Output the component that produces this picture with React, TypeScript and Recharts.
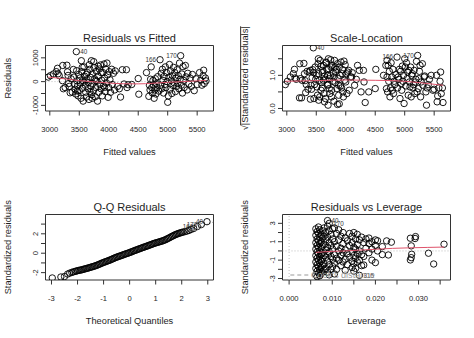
import React from 'react'
import { ScatterChart, Scatter, XAxis, YAxis, ReferenceArea, ReferenceLine } from 'recharts'

const W = 237
const H = 169
const INK = '#1e1e1e'
const RED = '#DF536B'
const GREY = '#bebebe'
const FONT = '"Liberation Sans", Arial, Helvetica, sans-serif'

// ---- Residuals vs Fitted: [fitted, residual]
const residVsFitted: [number, number][] = [
  [2975, 190], [3010, 250], [3060, 320], [3110, 420], [3130, 560], [3140, 330], [3160, 250], [3220, 680], [3215, 40], [3230, -300],
  [3260, -250], [3290, 690], [3300, 410], [3310, 260], [3320, -80], [3330, -200], [3345, -470], [3360, 120], [3380, -440], [3400, 510],
  [3410, 190], [3420, -120], [3430, -320], [3440, -520], [3450, 1260], [3455, 460], [3460, 30], [3470, -190], [3480, -600], [3490, 300],
  [3500, -380], [3510, 150], [3520, -60], [3530, -700], [3535, 880], [3540, 420], [3550, -280], [3560, 40], [3565, -820], [3580, 620],
  [3590, 230], [3600, -150], [3610, -450], [3620, -650], [3630, 80], [3640, 380], [3650, -300], [3655, -40], [3665, -750], [3670, 710],
  [3680, 520], [3690, 180], [3700, -200], [3705, 880], [3710, -550], [3720, 320], [3730, -80], [3740, -380], [3745, 840], [3750, 600],
  [3760, 120], [3770, -640], [3780, -250], [3790, 430], [3800, 20], [3810, -820], [3820, 230], [3830, -450], [3840, 530], [3850, -130],
  [3860, 700], [3870, -300], [3880, 60], [3890, -600], [3900, 380], [3910, -180], [3920, 740], [3930, 150], [3940, -420], [3950, 520],
  [3960, -50], [3970, 780], [3980, 280], [3990, -660], [4000, -250], [4010, 420], [4020, 80], [4030, -450], [4050, 520], [4060, -120],
  [4080, 350], [4100, -350], [4110, 450], [4150, -200], [4180, -300], [4200, -650], [4230, 500], [4260, -100], [4300, 500], [4310, -250],
  [4330, -130], [4390, -120], [4500, 130], [4510, -530],
  [3580, -20], [3620, 300], [3680, -420], [3720, -700], [3780, 40], [3820, 650], [3870, 380], [3930, -240], [3550, 600], [3470, -400],
  [4640, 380], [4680, -620], [4690, -150], [4700, -350], [4710, 100], [4720, 620], [4730, -250], [4740, -480], [4750, 50], [4760, -150],
  [4770, -700], [4780, -350], [4790, 120], [4800, -520], [4810, -80], [4820, -250], [4830, 210], [4850, -400], [4870, 920], [4880, -150],
  [4890, 350], [4900, -300], [4910, 520], [4920, 50], [4930, -480], [4940, 220], [4950, -120], [4960, 620], [4970, -250], [4980, 380],
  [4990, 0], [5000, -870], [5010, -600], [5020, 180], [5030, 720], [5040, -320], [5050, 450], [5060, 60], [5070, -500], [5080, 250],
  [5090, -160], [5100, 600], [5110, -50], [5120, 380], [5130, -420], [5140, 150], [5150, -200], [5160, 500], [5170, -80], [5180, 250],
  [5190, -300], [5200, 780], [5210, 100], [5220, 1090], [5230, -150], [5240, 320], [5250, -480], [5260, 630], [5270, 50], [5280, -250],
  [5300, 680], [5310, 200], [5330, -350], [5340, 350], [5360, -100], [5380, 150], [5400, -200], [5420, 300], [5450, -380], [5480, 120],
  [5500, -120], [5540, 380], [5560, 60], [5580, -150], [5600, 250], [5610, 480], [5620, -80], [5640, 150], [5650, 30],
]
const residSmooth: [number, number][] = [
  [2975, 190], [3250, 120], [3500, 40], [3750, -10], [4000, -60], [4250, -90], [4500, -95], [4750, -70], [5000, -30], [5250, 0], [5500, 30], [5650, 50],
]
const residIds: [number, number, string, 'l' | 'r'][] = [[3450, 1260, '40', 'r'], [4870, 920, '166', 'l'], [5220, 1090, '170', 'l']]

// ---- Scale-Location: [fitted, sqrt|std resid|]
const scaleLoc: [number, number][] = [
  [2975, 0.72], [3010, 0.82], [3060, 0.95], [3110, 1.05], [3130, 1.18], [3140, 0.92], [3160, 0.88], [3215, 0.32], [3220, 1.35], [3230, 0.9],
  [3250, 0.32], [3260, 0.85], [3290, 1.36], [3300, 1.05], [3310, 0.84], [3320, 0.48], [3330, 0.72], [3345, 1.12], [3360, 0.58], [3380, 1.1],
  [3400, 1.15], [3400, 0.28], [3410, 0.7], [3420, 0.58], [3430, 0.93], [3440, 1.17], [3450, 1.83], [3455, 1.08], [3460, 0.3], [3470, 0.72],
  [3480, 1.25], [3490, 0.88], [3500, 1.0], [3510, 0.65], [3520, 0.4], [3530, 1.35], [3535, 1.5], [3540, 1.05], [3540, 0.25], [3550, 0.85],
  [3560, 0.35], [3565, 1.45], [3580, 1.27], [3590, 0.78], [3600, 0.62], [3610, 1.08], [3620, 1.3], [3630, 0.45], [3640, 0.97], [3640, 0.2],
  [3650, 0.88], [3655, 0.3], [3665, 1.4], [3670, 1.38], [3680, 1.18], [3690, 0.7], [3700, 0.73], [3700, 0.1], [3705, 1.5], [3710, 1.2],
  [3720, 0.9], [3730, 0.45], [3740, 0.99], [3745, 1.47], [3750, 1.25], [3760, 0.55], [3770, 1.3], [3780, 0.82], [3790, 1.07], [3800, 0.22],
  [3810, 1.45], [3820, 0.78], [3830, 1.1], [3840, 1.18], [3850, 0.6], [3860, 1.35], [3860, 0.12], [3870, 0.9], [3880, 0.4], [3890, 1.25],
  [3890, 0.14], [3900, 1.0], [3910, 0.68], [3920, 1.4], [3930, 0.62], [3940, 1.05], [3950, 1.17], [3960, 0.35], [3970, 1.43], [3980, 0.85],
  [3990, 1.32], [4000, 0.8], [4010, 1.05], [4020, 0.45], [4030, 1.1], [4050, 1.15], [4060, 0.55], [4080, 0.95], [4100, 0.95], [4110, 1.08],
  [4150, 0.7], [4180, 0.88], [4200, 1.3], [4230, 1.15], [4260, 0.5], [4300, 1.15], [4310, 0.8], [4330, 0.18], [4390, 0.5], [4500, 0.6],
  [4510, 1.18],
  [3580, 0.55], [3620, 0.85], [3690, 1.0], [3760, 0.35], [3820, 1.25], [3880, 0.7], [3950, 0.5], [3600, 1.15], [3720, 0.6], [3800, 0.95],
  [4640, 1.0], [4680, 1.3], [4690, 0.6], [4700, 0.95], [4700, 1.45], [4710, 0.5], [4720, 1.3], [4730, 0.82], [4740, 1.12], [4750, 0.35],
  [4760, 0.62], [4770, 1.38], [4780, 0.95], [4790, 0.55], [4800, 1.18], [4810, 0.45], [4820, 0.82], [4830, 0.72], [4850, 1.02], [4870, 1.55],
  [4880, 0.62], [4890, 0.95], [4900, 0.88], [4910, 1.18], [4920, 0.3], [4930, 1.12], [4940, 0.75], [4950, 0.55], [4960, 1.28], [4970, 0.82],
  [4980, 1.0], [4990, 0.15], [5000, 1.5], [5010, 1.25], [5020, 0.68], [5030, 1.38], [5040, 0.9], [5050, 1.1], [5060, 0.4], [5070, 1.15],
  [5080, 0.8], [5090, 0.65], [5100, 1.25], [5110, 0.35], [5120, 1.0], [5130, 1.05], [5140, 0.62], [5150, 0.72], [5160, 1.15], [5170, 0.45],
  [5180, 0.8], [5190, 0.88], [5200, 1.42], [5210, 0.5], [5220, 1.6], [5230, 0.6], [5240, 0.9], [5250, 1.12], [5260, 1.3], [5270, 0.35],
  [5280, 0.8], [5300, 1.35], [5310, 0.7], [5330, 0.95], [5340, 0.98], [5360, 0.5], [5370, 0.1], [5380, 0.62], [5400, 0.72], [5420, 0.88],
  [5450, 1.0], [5480, 0.55], [5500, 0.58], [5540, 1.0], [5550, 0.2], [5560, 0.38], [5580, 0.62], [5600, 0.82], [5610, 1.1], [5620, 0.45],
  [5640, 0.62], [5650, 0.18],
]
const scaleSmooth: [number, number][] = [
  [2975, 0.82], [3500, 0.84], [4000, 0.86], [4500, 0.85], [4800, 0.84], [5000, 0.82], [5250, 0.78], [5500, 0.73], [5650, 0.7],
]
const scaleIds: [number, number, string, 'l' | 'r'][] = [[3450, 1.83, '40', 'r'], [4870, 1.55, '166', 'l'], [5220, 1.6, '170', 'l']]

// ---- Q-Q Residuals: [theoretical quantile, std residual]
const qq: [number, number][] = [
  [-2.97, -2.55], [-2.64, -2.45], [-2.5, -2.4], [-2.38, -2.15], [-2.3, -2.05], [-2.22, -1.98], [-2.16, -1.92], [-2.1, -1.88], [-2.05, -1.84],
  [-2.0, -1.8], [-1.95, -1.77], [-1.9, -1.74], [-1.85, -1.72], [-1.8, -1.68], [-1.75, -1.64], [-1.7, -1.6], [-1.65, -1.57], [-1.6, -1.53],
  [-1.55, -1.49], [-1.5, -1.45], [-1.45, -1.41], [-1.4, -1.37], [-1.35, -1.33], [-1.3, -1.28], [-1.25, -1.23], [-1.2, -1.18], [-1.15, -1.12],
  [-1.1, -1.06], [-1.05, -1.0], [-1.0, -0.95], [-0.95, -0.9], [-0.9, -0.85], [-0.85, -0.8], [-0.8, -0.75], [-0.75, -0.7], [-0.7, -0.64],
  [-0.65, -0.58], [-0.6, -0.52], [-0.55, -0.46], [-0.5, -0.41], [-0.45, -0.36], [-0.4, -0.31], [-0.35, -0.27], [-0.3, -0.22], [-0.25, -0.17],
  [-0.2, -0.12], [-0.15, -0.07], [-0.1, -0.03], [-0.05, 0.02], [0, 0.07], [0.05, 0.12], [0.1, 0.17], [0.15, 0.23], [0.2, 0.28], [0.25, 0.33],
  [0.3, 0.38], [0.35, 0.43], [0.4, 0.48], [0.45, 0.53], [0.5, 0.58], [0.55, 0.63], [0.6, 0.67], [0.65, 0.72], [0.7, 0.77], [0.75, 0.82],
  [0.8, 0.87], [0.85, 0.92], [0.9, 0.97], [0.95, 1.02], [1.0, 1.06], [1.05, 1.1], [1.1, 1.14], [1.15, 1.18], [1.2, 1.22], [1.25, 1.26],
  [1.3, 1.31], [1.35, 1.36], [1.4, 1.42], [1.45, 1.49], [1.5, 1.56], [1.55, 1.63], [1.6, 1.7], [1.65, 1.77], [1.7, 1.84], [1.75, 1.9],
  [1.8, 1.96], [1.85, 2.01], [1.9, 2.06], [1.95, 2.1], [2.0, 2.14], [2.05, 2.18], [2.12, 2.22], [2.2, 2.28], [2.28, 2.35], [2.36, 2.45],
  [2.46, 2.55], [2.6, 2.75], [2.75, 2.95], [2.97, 3.25],
]
const qqLine: [number, number][] = [[-2.76, -2.76], [3.22, 3.22]]
const qqIds: [number, number, string, 'l' | 'r'][] = [[2.97, 3.25, '40', 'l'], [2.75, 2.95, '170', 'l'], [2.6, 2.75, '166', 'l']]

// ---- Residuals vs Leverage: [leverage, std residual]
const leverage: [number, number][] = [
  [0.0062, 2.4], [0.0062, 1.7], [0.0062, 0.9], [0.0062, 0.2], [0.0062, -0.5], [0.0062, -1.2], [0.0062, -1.9], [0.0062, -2.6],
  [0.0065, 2.1], [0.0065, 1.3], [0.0065, 0.6], [0.0065, -0.1], [0.0065, -0.8], [0.0065, -1.5], [0.0065, -2.2], [0.0065, -2.8],
  [0.0068, 2.6], [0.0068, 1.9], [0.0068, 1.1], [0.0068, 0.4], [0.0068, -0.3], [0.0068, -1.0], [0.0068, -1.7], [0.0068, -2.4],
  [0.0071, 2.3], [0.0071, 1.5], [0.0071, 0.8], [0.0071, 0.0], [0.0071, -0.6], [0.0071, -1.3], [0.0071, -2.0], [0.0071, -2.7],
  [0.0074, 1.8], [0.0074, 1.0], [0.0074, 0.3], [0.0074, -0.4], [0.0074, -1.1], [0.0074, -1.8], [0.0074, -2.5],
  [0.0077, 2.2], [0.0077, 1.4], [0.0077, 0.5], [0.0077, -0.2], [0.0077, -0.9], [0.0077, -1.6], [0.0077, -2.3],
  [0.0081, 2.5], [0.0081, 1.6], [0.0081, 0.7], [0.0081, -0.5], [0.0081, -1.4], [0.0081, -2.1],
  [0.0085, 2.0], [0.0085, 1.2], [0.0085, 0.1], [0.0085, -0.7], [0.0085, -1.9],
  [0.0089, 3.3], [0.0089, 2.7], [0.0089, 1.5], [0.0089, 0.4], [0.0089, -0.3], [0.0089, -1.1], [0.0089, -2.3],
  [0.0093, 3.0], [0.0093, 2.2], [0.0093, 0.9], [0.0093, -0.1], [0.0093, -1.5], [0.0093, -2.6],
  [0.0097, 1.8], [0.0097, 0.6], [0.0097, -0.6], [0.0097, -2.0],
  [0.0101, 2.4], [0.0101, 1.3], [0.0101, 0.2], [0.0101, -0.9], [0.0101, -1.7],
  [0.0105, 2.5], [0.0105, 1.0], [0.0105, -0.4], [0.0105, -1.3], [0.0105, -2.5],
  [0.011, 1.9], [0.011, 0.5], [0.011, -0.8], [0.011, -2.0],
  [0.0115, 2.3], [0.0115, 1.2], [0.0115, 0.0], [0.0115, -1.0],
  [0.012, 1.6], [0.012, 0.3], [0.012, -0.5], [0.012, -1.6],
  [0.0125, 2.0], [0.0125, 0.8], [0.0125, -0.2], [0.0125, -1.2],
  [0.013, 1.4], [0.013, 0.1], [0.013, -0.9], [0.013, -2.1],
  [0.0135, 1.1], [0.0135, -0.3], [0.0135, -1.5],
  [0.014, 1.9], [0.014, 0.6], [0.014, -0.7],
  [0.0146, 1.6], [0.0146, 0.9], [0.0146, -0.1], [0.0146, -1.1], [0.0146, -1.8],
  [0.015, 2.0], [0.015, 0.4], [0.015, -0.5], [0.015, -1.4], [0.015, -2.2],
  [0.0154, 1.3], [0.0154, 0.2], [0.0154, -0.8], [0.0154, -1.9],
  [0.0158, 1.8], [0.0158, 0.7], [0.0158, -0.3], [0.0158, -1.2],
  [0.0163, 1.2], [0.0163, 0.0], [0.0163, -1.0], [0.0163, -2.65],
  [0.0168, 1.5], [0.0168, -0.4], [0.0168, -1.6],
  [0.0173, 0.9], [0.0173, -0.6], [0.0173, -1.53],
  [0.0178, 1.3], [0.0178, 0.3],
  [0.0185, 1.4], [0.0185, 0.8], [0.0185, -0.2],
  [0.0192, 1.0], [0.0192, 0.2], [0.0192, -1.0],
  [0.02, 1.2], [0.02, 0.6], [0.02, -1.27],
  [0.0205, 1.1], [0.0205, 0.0],
  [0.0216, 0.47], [0.0216, -0.4], [0.0226, 1.09], [0.023, -0.44], [0.0237, 0.95],
  [0.0281, 1.38], [0.0293, 1.56], [0.0292, 1.35], [0.0283, 0.55], [0.0284, -0.36], [0.0283, -0.73], [0.0281, -0.98],
  [0.0323, -0.25], [0.0335, -1.42], [0.0359, 0.73],
]
const levSmooth: [number, number][] = [
  [0.0062, -0.16], [0.008, -0.1], [0.01, -0.05], [0.013, 0.0], [0.016, 0.08], [0.02, 0.18], [0.024, 0.28], [0.028, 0.34], [0.032, 0.38], [0.0359, 0.42],
]
const levIds: [number, number, string, 'l' | 'r'][] = [[0.0089, 3.3, '40', 'r'], [0.0093, 3.0, '170', 'r'], [0.0163, -2.65, '315', 'r']]

const fittedTicks = [3000, 3500, 4000, 4500, 5000, 5500]
const residTicks = [-1000, -500, 0, 500, 1000]
const scaleTicks = [0, 0.5, 1, 1.5]
const qqXTicks = [-3, -2, -1, 0, 1, 2, 3]
const qqYTicks = [-2, -1, 0, 1, 2, 3]
const levXTicks = [0, 0.005, 0.01, 0.015, 0.02, 0.025, 0.03, 0.035]
const levYTicks = [-3, -2, -1, 0, 1, 2, 3]

const toPts = (a: [number, number][]) => a.map(([x, y]) => ({ x, y }))
const toIds = (a: [number, number, string, 'l' | 'r'][]) => a.map(([x, y, id, side]) => ({ x, y, id, side }))

const ring = (p: any) => <circle cx={p.cx} cy={p.cy} r={3.2} fill="none" stroke="#000" strokeWidth={0.9} />
const nothing = () => <g />
const idLabel = (p: any) => {
  const left = p.payload.side === 'l'
  return (
    <text x={p.cx + (left ? -4 : 4)} y={p.cy} dy="0.35em" textAnchor={left ? 'end' : 'start'} fontSize={6.3} fill="#333" fontFamily={FONT}>
      {p.payload.id}
    </text>
  )
}

type PanelProps = {
  left: number
  top: number
  title: string
  xLabel: string
  yLabel: React.ReactNode
  xDomain: [number, number]
  yDomain: [number, number]
  xTicks: number[]
  yTicks: number[]
  xFmt: (v: number) => string
  yFmt: (v: number) => string
  points: [number, number][]
  smooth?: [number, number][]
  dotted?: [number, number][]
  ids: [number, number, string, 'l' | 'r'][]
  hZero?: boolean
  vZero?: boolean
  extra?: React.ReactNode
}

function Panel(p: PanelProps) {
  const xTick = (t: any) => (
    <text x={t.x} y={t.y + 16} textAnchor="middle" fontSize={7.6} fill={INK} fontFamily={FONT}>{p.xFmt(t.payload.value)}</text>
  )
  const yTick = (t: any) => (
    <text x={t.x - 3.3} y={t.y} transform={`rotate(-90 ${t.x - 3.3} ${t.y})`} textAnchor="middle" fontSize={7.6} fill={INK} fontFamily={FONT}>
      {p.yFmt(t.payload.value)}
    </text>
  )
  return (
    <div style={{ position: 'absolute', left: p.left, top: p.top, width: W, height: H }}>
      <ScatterChart width={W} height={H} margin={{ top: 45.5, right: 23.5, bottom: 8, left: 0 }}>
        <XAxis type="number" dataKey="x" domain={p.xDomain} ticks={p.xTicks} interval={0} allowDataOverflow
          axisLine={false} tickLine={{ stroke: '#333' }} tickSize={4.5} tickMargin={0} height={50} tick={xTick} />
        <YAxis type="number" dataKey="y" domain={p.yDomain} ticks={p.yTicks} interval={0} allowDataOverflow
          axisLine={false} tickLine={{ stroke: '#333' }} tickSize={4.5} tickMargin={0} width={45.5} tick={yTick} />
        {p.hZero && <ReferenceLine y={0} stroke={GREY} strokeDasharray="1 2" />}
        {p.vZero && <ReferenceLine x={0} stroke={GREY} strokeDasharray="1 2" />}
        {p.dotted && (
          <Scatter data={toPts(p.dotted)} shape={nothing} line={{ stroke: '#888', strokeWidth: 1, strokeDasharray: '1 2' }} isAnimationActive={false} />
        )}
        <Scatter data={toPts(p.points)} shape={ring} isAnimationActive={false} />
        {p.smooth && (
          <Scatter data={toPts(p.smooth)} shape={nothing} line={{ stroke: RED, strokeWidth: 1 }} lineJointType="monotoneX" isAnimationActive={false} />
        )}
        <Scatter data={toIds(p.ids)} shape={idLabel} isAnimationActive={false} />
        <ReferenceArea x1={p.xDomain[0]} x2={p.xDomain[1]} y1={p.yDomain[0]} y2={p.yDomain[1]} fill="none" stroke="#333" strokeWidth={1} ifOverflow="visible" />
      </ScatterChart>
      <svg width={W} height={H} style={{ position: 'absolute', left: 0, top: 0, pointerEvents: 'none' }} fontFamily={FONT} fill={INK}>
        <text x={129.5} y={41.5} textAnchor="middle" fontSize={11}>{p.title}</text>
        <text x={129.5} y={155} textAnchor="middle" fontSize={9.25}>{p.xLabel}</text>
        <text transform="translate(11.2 78.3) rotate(-90)" textAnchor="middle" fontSize={9.25}>{p.yLabel}</text>
        {p.extra}
      </svg>
    </div>
  )
}

const thousands = (v: number) => (Math.abs(v) % 1000 === 0 ? String(v) : '')
const oneDec = (v: number) => (v === 0 || v === 1 ? v.toFixed(1) : '')
const even = (v: number) => (v % 2 === 0 ? String(v) : '')
const odd = (v: number) => (Math.abs(v) % 2 === 1 ? String(v) : '')
const lev = (v: number) => (Math.abs(v * 100 - Math.round(v * 100)) < 1e-9 ? v.toFixed(3) : '')

export default function App() {
  return (
    <div style={{ position: 'absolute', left: 0, top: 0, width: 474, height: 338, background: '#fff', fontFamily: FONT }}>
      <Panel left={0} top={0} title="Residuals vs Fitted" xLabel="Fitted values" yLabel="Residuals"
        xDomain={[2927, 5777]} yDomain={[-1236, 1519]} xTicks={fittedTicks} yTicks={residTicks}
        xFmt={String} yFmt={thousands} points={residVsFitted} smooth={residSmooth} ids={residIds} hZero />
      <Panel left={237} top={0} title="Scale-Location" xLabel="Fitted values"
        yLabel={<>√<tspan style={{ textDecoration: 'overline' }}>|Standardized residuals|</tspan></>}
        xDomain={[2927, 5777]} yDomain={[-0.076, 1.9]} xTicks={fittedTicks} yTicks={scaleTicks}
        xFmt={String} yFmt={oneDec} points={scaleLoc} smooth={scaleSmooth} ids={scaleIds} />
      <Panel left={0} top={169} title="Q-Q Residuals" xLabel="Theoretical Quantiles" yLabel="Standardized residuals"
        xDomain={[-3.23, 3.22]} yDomain={[-2.76, 3.99]} xTicks={qqXTicks} yTicks={qqYTicks}
        xFmt={String} yFmt={even} points={qq} dotted={qqLine} ids={qqIds} />
      <Panel left={237} top={169} title="Residuals vs Leverage" xLabel="Leverage" yLabel="Standardized residuals"
        xDomain={[-0.00153, 0.0374]} yDomain={[-3.16, 3.96]} xTicks={levXTicks} yTicks={levYTicks}
        xFmt={lev} yFmt={odd} points={leverage} smooth={levSmooth} ids={levIds} hZero vZero
        extra={
          <g>
            <line x1={53.3} x2={71.7} y1={106} y2={106} stroke="#999" strokeDasharray="4 3" />
            <text x={74} y={109} fontSize={9.1} fill="#999">Cook's distance</text>
          </g>
        } />
    </div>
  )
}
